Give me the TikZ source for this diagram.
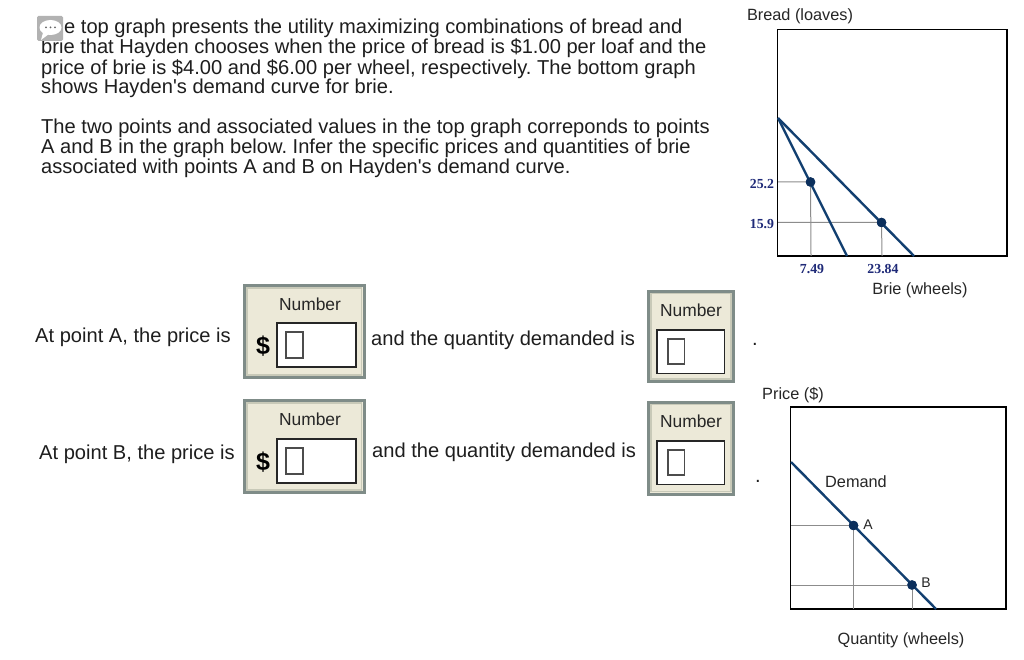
\documentclass[tikz,border=0pt]{standalone}
\usepackage{fontspec}
\setmainfont{Liberation Sans}
\newfontfamily\valfont{Liberation Serif}
\newfontfamily\plainfont{Liberation Sans}
\definecolor{txt}{HTML}{1E1E1E}
\definecolor{curve}{HTML}{123F70}
\definecolor{pt}{HTML}{0B2F5C}
\definecolor{val}{HTML}{1F2A78}
\definecolor{guide}{HTML}{8C8C8C}
\definecolor{panel}{HTML}{ECE9D8}
\definecolor{paneledge}{HTML}{7F8C88}
\definecolor{panelin}{HTML}{C8C9B8}
\newcommand{\aq}{{\plainfont\symbol{39}}}
\newcommand{\inputpanel}[4]{%
 \draw[panelbox] (#1,#2) rectangle (#3,#4);
 \draw[panelinner] (#1+2.5,#2+2.5) rectangle (#3-2.5,#4-2.5);}
\tikzset{
 x=1pt,y=-1pt,
 bodytext/.style={anchor=base west,inner sep=0pt,text=txt,font=\fontsize{20.11}{22}\selectfont},
 rowtext/.style={anchor=base west,inner sep=0pt,text=txt,font=\fontsize{20.1}{22}\selectfont},
 labeltext/.style={anchor=base,inner sep=0pt,text=black!85,font=\fontsize{16.3}{18}\selectfont},
 smalllabel/.style={anchor=base,inner sep=0pt,text=black!85,font=\fontsize{14}{16}\selectfont},
 valtext/.style={anchor=base,inner sep=0pt,text=val,font=\valfont\bfseries\fontsize{13.8}{15}\selectfont},
 axisbox/.style={draw=black,line width=1.6pt,fill=white},
 guideline/.style={draw=guide,line width=1pt},
 curveline/.style={draw=curve,line width=2.4pt},
 dotmark/.style={circle,fill=pt,inner sep=0pt,minimum size=9.5pt},
 panelbox/.style={draw=paneledge,line width=3pt,fill=panel},
 panelinner/.style={draw=panelin,line width=1.2pt},
 entry/.style={draw=black!85,line width=1.3pt,fill=white},
 cursorbox/.style={draw=black!70,line width=1.2pt,fill=white},
 numtext/.style={anchor=base,inner sep=0pt,text=black!85,font=\fontsize{17.4}{20}\selectfont},
 dollar/.style={anchor=base,inner sep=0pt,text=black,font=\bfseries\fontsize{25}{28}\selectfont},
}
\begin{document}
\begin{tikzpicture}
\frenchspacing
\useasboundingbox (0,0) rectangle (1024,660);
\fill[white] (0,0) rectangle (1024,660);
% text
\node[bodytext] (t1) at (64,34) {e top graph presents the utility maximizing combinations of bread and};
\node[bodytext] (t2) at (41,54) {brie that Hayden chooses when the price of bread is \$1.00 per loaf and the};
\node[bodytext] (t3) at (41,74.5) {price of brie is \$4.00 and \$6.00 per wheel, respectively. The bottom graph};
\node[bodytext] (t4) at (41,94) {shows Hayden\aq s demand curve for brie.};
\node[bodytext] (t5) at (41,134) {The two points and associated values in the top graph correponds to points};
\node[bodytext] (t6) at (41,154) {A and B in the graph below. Infer the specific prices and quantities of brie};
\node[bodytext] (t7) at (41,174) {associated with points A and B on Hayden\aq s demand curve.};
% comment icon
\fill[black!30,rounded corners=1.5pt] (37,16) rectangle (63,41);
\fill[white] (50.5,27.5) ellipse (11 and 7.5);
\fill[white] (41,40) -- (43.5,31) -- (49,34) -- cycle;
\fill[black!60] (46,27.5) circle (1) (50.5,27.5) circle (1) (55,27.5) circle (1);
% row labels
\node[rowtext] (pa) at (35,342.5) {At point A, the price is};
\node[rowtext] (pb) at (39,459.5) {At point B, the price is};
\node[rowtext] (qa) at (371,345.5) {and the quantity demanded is};
\node[rowtext] (qb) at (372,457.5) {and the quantity demanded is};
\node[bodytext] (da) at (752,345) {.};
\node[bodytext] (db) at (755,482) {.};
% input panels
\inputpanel{244.5}{285.5}{364}{377.5}
\node[numtext] (n1) at (310,310.5) {Number};
\node[dollar] (s1) at (263,354) {\$};
\draw[entry] (277,323) rectangle (356,367);
\draw[cursorbox] (286,332) rectangle (303,358);
\inputpanel{244.5}{400.5}{364}{492.5}
\node[numtext] (n2) at (310,425.5) {Number};
\node[dollar] (s2) at (263,470) {\$};
\draw[entry] (277,439) rectangle (356,483);
\draw[cursorbox] (286,448) rectangle (303,474);
\inputpanel{648.5}{291}{733.5}{381.5}
\node[numtext] (n3) at (691,316) {Number};
\draw[entry] (657,330) rectangle (724.5,373.5);
\draw[cursorbox] (668,339) rectangle (684.5,364);
\inputpanel{648.5}{402}{733.5}{494}
\node[numtext] (n4) at (691,427) {Number};
\draw[entry] (657,441) rectangle (724.5,484.5);
\draw[cursorbox] (668,450) rectangle (684.5,475);
% top graph
\draw[axisbox] (777.5,29.5) rectangle (1007,256);
\node[labeltext] (by) at (800,21) {Bread (loaves)};
\node[labeltext] (bx) at (920,294) {Brie (wheels)};
\coordinate (apex) at (778,118);
\coordinate (end1) at (847,256);
\coordinate (end2) at (914,256);
\node[dotmark] (p1) at (810.5,182) {};
\node[dotmark] (p2) at (881.5,222.5) {};
\draw[guideline] (778,182) -- (p1.center) -- (811,256);
\draw[guideline] (778,222.5) -- (p2.center) -- (882,256);
\draw[curveline] (apex) -- (end1);
\draw[curveline] (apex) -- (end2);
\node[dotmark] at (p1) {};
\node[dotmark] at (p2) {};
\node[valtext] (v1) at (762,188.5) {25.2};
\node[valtext] (v2) at (762,228.5) {15.9};
\node[valtext] (v3) at (812,273) {7.49};
\node[valtext] (v4) at (883,273) {23.84};
% bottom graph
\draw[axisbox] (790.5,407) rectangle (1006,609);
\node[labeltext] (py) at (793,399) {Price (\$)};
\node[labeltext] (qx) at (901,644) {Quantity (wheels)};
\node[labeltext] (dl) at (856,487) {Demand};
\coordinate (d0) at (791,462);
\coordinate (d1) at (936,609);
\node[dotmark] (A) at (853.5,525.5) {};
\node[dotmark] (B) at (912,585) {};
\draw[guideline] (791,525.5) -- (A.center) -- (853.5,609);
\draw[guideline] (791,585) -- (B.center) -- (912,609);
\draw[curveline] (d0) -- (d1);
\node[dotmark] at (A) {};
\node[dotmark] at (B) {};
\node[smalllabel] (la) at (868,529) {A};
\node[smalllabel] (lb) at (926,587) {B};
\end{tikzpicture}
\end{document}
